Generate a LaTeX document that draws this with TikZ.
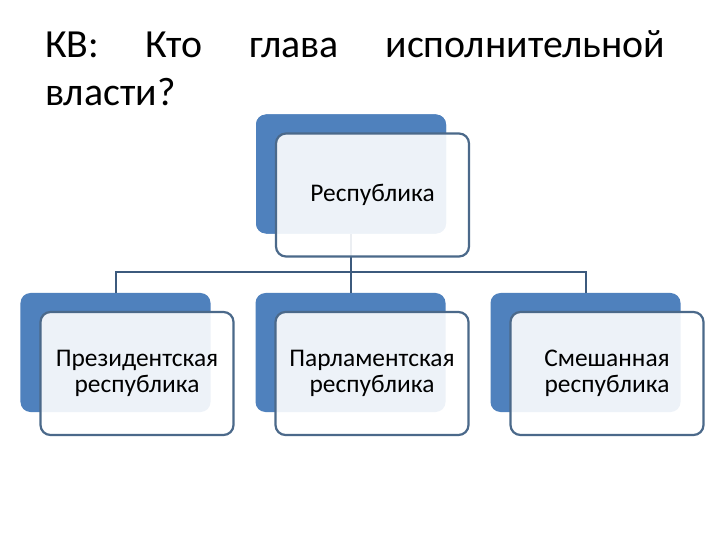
\documentclass[tikz,border=0pt]{standalone}
\usepackage{fontspec}
\setmainfont{Carlito}
\definecolor{accblue}{RGB}{79,129,189}
\definecolor{edgeblue}{RGB}{75,105,138}
\definecolor{linkblue}{RGB}{60,90,125}
\begin{document}
\begin{tikzpicture}[x=1bp,y=-1bp,
  backbox/.style={draw=none,fill=accblue,rounded corners=10bp,minimum width=190bp,minimum height=119bp,inner sep=0pt},
  frontbox/.style={draw=edgeblue,line width=2.2bp,fill=white,fill opacity=0.9,text opacity=1,rounded corners=10bp,minimum width=193bp,minimum height=123bp,inner sep=0pt,align=center,font=\fontsize{25.5}{26.5}\selectfont},
  conn/.style={draw=linkblue,line width=2bp}]
\useasboundingbox[fill=white] (0,0) rectangle (720,540);
\node[anchor=north west,inner sep=0pt,align=left,font=\fontsize{40}{49}\selectfont] (title) at (45,30)
  {\makebox[620bp][s]{КВ: Кто глава исполнительной}\\власти?};
\coordinate (hub) at (351,272);
\node[backbox] (blueTop) at (351,174) {};
\node[backbox] (blue1) at (115.5,352.5) {};
\node[backbox] (blue2) at (350.5,352.5) {};
\node[backbox] (blue3) at (585.5,352.5) {};
\draw[conn] (blueTop.south) -- (hub);
\draw[conn] (hub) -| (blue1.north);
\draw[conn] (hub) -| (blue2.north);
\draw[conn] (hub) -| (blue3.north);
\node[backbox] at (blueTop) {};
\node[frontbox] (top) at (372.5,195) {Республика};
\node[frontbox] (b1) at (137,373.5) {Президентская\\республика};
\node[frontbox] (b2) at (372,373.5) {Парламентская\\республика};
\node[frontbox] (b3) at (607,373.5) {Смешанная\\республика};
\end{tikzpicture}
\end{document}
